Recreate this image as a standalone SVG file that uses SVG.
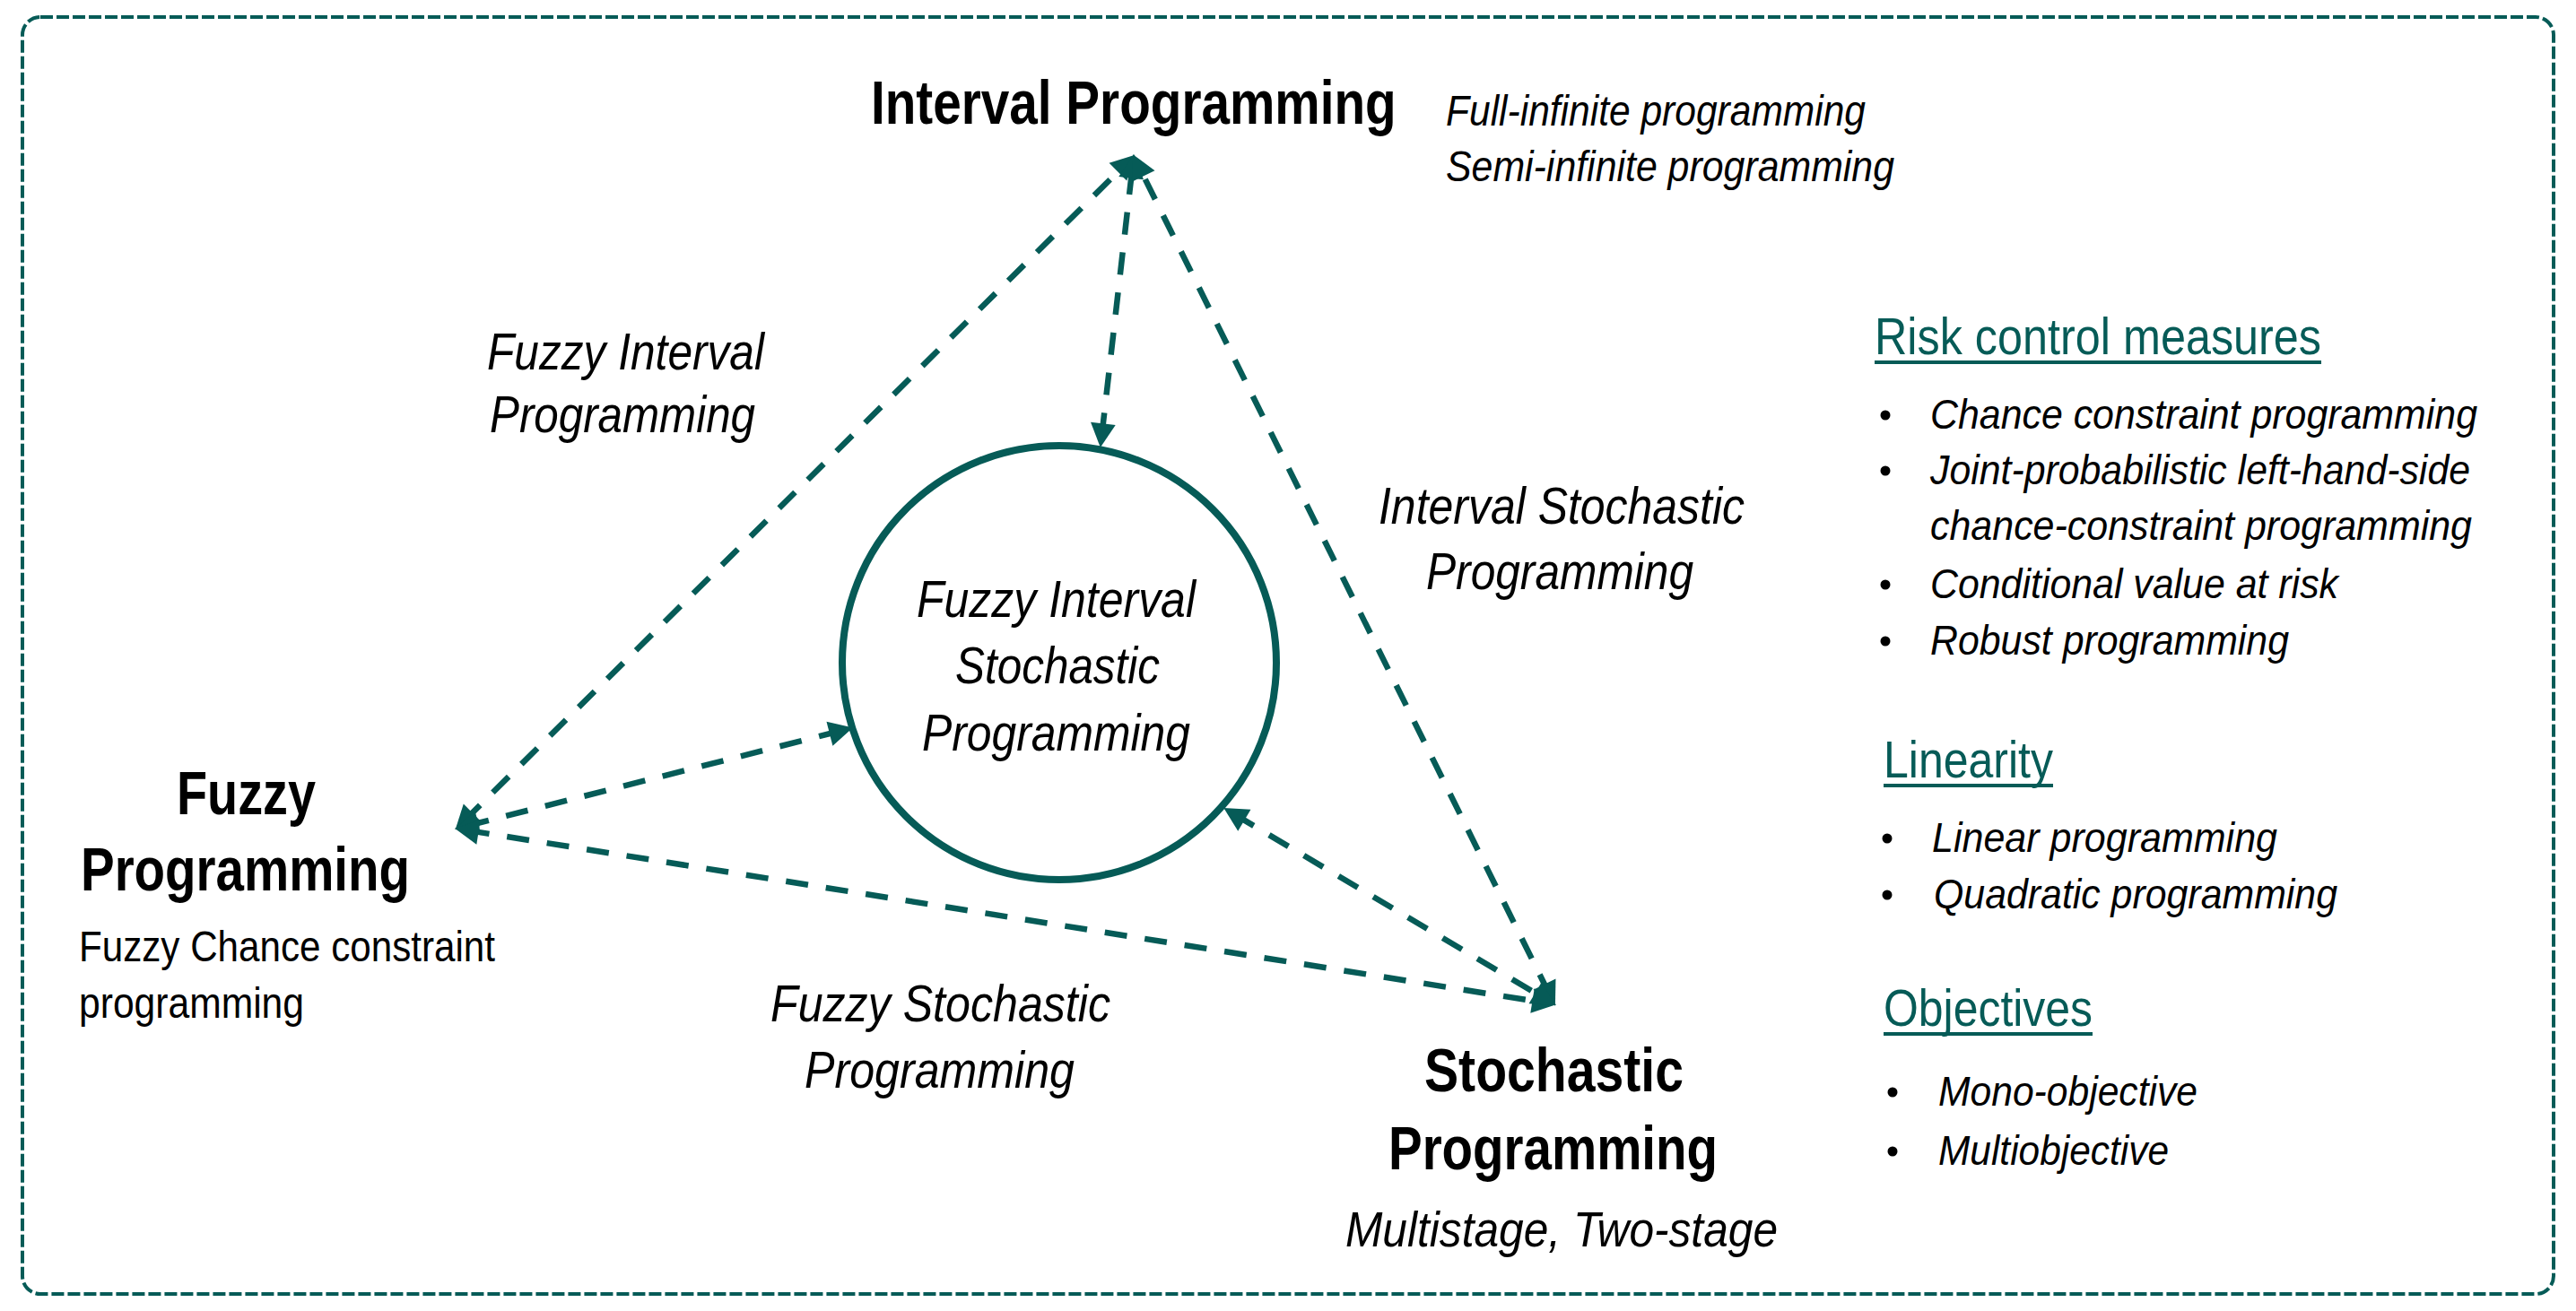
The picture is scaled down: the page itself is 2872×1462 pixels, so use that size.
<svg xmlns="http://www.w3.org/2000/svg" width="2872" height="1462" viewBox="0 0 2872 1462">
<style>
text{font-family:"Liberation Sans",Arial,sans-serif;fill:#000}
.b{font-weight:bold;font-size:69px}
.i{font-style:italic;font-size:58px}
.s{font-style:italic;font-size:48px}
.r{font-size:48px}
.l{font-style:italic;font-size:47px}
.h{font-size:57px;fill:#065b57}
.con{fill:none;stroke:#065b57;stroke-width:6.5;stroke-dasharray:25 20;marker-start:url(#ah);marker-end:url(#ah)}
.ul{fill:#065b57}
.bul{fill:#000}
</style>
<defs>
<marker id="ah" markerUnits="userSpaceOnUse" markerWidth="30" markerHeight="30" viewBox="0 -14 26 28" refX="12" refY="0" orient="auto-start-reverse">
<path d="M0,-13 L25,0 L0,13 z" fill="#065b57"/>
</marker>
</defs>
<rect id="frame" x="25" y="19" width="2822" height="1424" rx="20" ry="20" fill="none" stroke="#065b57" stroke-width="4" stroke-dasharray="14 4"/>

<g id="connectors">
<path class="con" d="M517.5,915.5 L1255.5,182.5"/>
<path class="con" d="M1228.4,485.1 L1262.6,185.9"/>
<path class="con" d="M1727.7,1109.2 L1269.3,184.8"/>
<path class="con" d="M520.6,921 L937.4,815"/>
<path class="con" d="M520.8,925.9 L1721.2,1118.1"/>
<path class="con" d="M1376.3,908.1 L1722.7,1113.9"/>
</g>

<g id="node-center">
<circle cx="1181" cy="739" r="242" fill="none" stroke="#065b57" stroke-width="8"/>
<text class="i" x="1022" y="688" textLength="311" lengthAdjust="spacingAndGlyphs">Fuzzy Interval</text>
<text class="i" x="1065" y="762" textLength="228" lengthAdjust="spacingAndGlyphs">Stochastic</text>
<text class="i" x="1028" y="837" textLength="299" lengthAdjust="spacingAndGlyphs">Programming</text>
</g>

<g id="node-interval">
<text class="b" transform="translate(971,138) scale(0.8215,1)" x="0" y="0">Interval Programming</text>
<text class="s" x="1612" y="140" textLength="468" lengthAdjust="spacingAndGlyphs">Full-infinite programming</text>
<text class="s" x="1612" y="202" textLength="500" lengthAdjust="spacingAndGlyphs">Semi-infinite programming</text>
</g>

<g id="node-fuzzy">
<text class="b" x="197" y="908" textLength="155" lengthAdjust="spacingAndGlyphs">Fuzzy</text>
<text class="b" x="90" y="993" textLength="367" lengthAdjust="spacingAndGlyphs">Programming</text>
<text class="r" x="88" y="1072" textLength="464" lengthAdjust="spacingAndGlyphs">Fuzzy Chance constraint</text>
<text class="r" x="88" y="1135" textLength="251" lengthAdjust="spacingAndGlyphs">programming</text>
</g>

<g id="node-stochastic">
<text class="b" x="1588" y="1217" textLength="289" lengthAdjust="spacingAndGlyphs">Stochastic</text>
<text class="b" x="1548" y="1304" textLength="367" lengthAdjust="spacingAndGlyphs">Programming</text>
<text class="i" x="1500" y="1390" textLength="482" lengthAdjust="spacingAndGlyphs" style="font-size:56px">Multistage, Two-stage</text>
</g>

<g id="label-fuzzy-interval">
<text class="i" x="543" y="412" textLength="309" lengthAdjust="spacingAndGlyphs">Fuzzy Interval</text>
<text class="i" x="546" y="482" textLength="296" lengthAdjust="spacingAndGlyphs">Programming</text>
</g>

<g id="label-interval-stochastic">
<text class="i" x="1537" y="584" textLength="408" lengthAdjust="spacingAndGlyphs">Interval Stochastic</text>
<text class="i" x="1590" y="657" textLength="298" lengthAdjust="spacingAndGlyphs">Programming</text>
</g>

<g id="label-fuzzy-stochastic">
<text class="i" x="859" y="1139" textLength="379" lengthAdjust="spacingAndGlyphs">Fuzzy Stochastic</text>
<text class="i" x="897" y="1213" textLength="301" lengthAdjust="spacingAndGlyphs">Programming</text>
</g>

<g id="legend-risk">
<text class="h" x="2090" y="395" textLength="498" lengthAdjust="spacingAndGlyphs">Risk control measures</text>
<rect class="ul" x="2090" y="402" width="498" height="4"/>
<circle class="bul" cx="2102" cy="463" r="5.5"/>
<circle class="bul" cx="2102" cy="525" r="5.5"/>
<circle class="bul" cx="2102" cy="652" r="5.5"/>
<circle class="bul" cx="2102" cy="715" r="5.5"/>
<text class="l" x="2152" y="478" textLength="610" lengthAdjust="spacingAndGlyphs">Chance constraint programming</text>
<text class="l" x="2152" y="540" textLength="602" lengthAdjust="spacingAndGlyphs">Joint-probabilistic left-hand-side</text>
<text class="l" x="2152" y="602" textLength="604" lengthAdjust="spacingAndGlyphs">chance-constraint programming</text>
<text class="l" x="2152" y="667" textLength="455" lengthAdjust="spacingAndGlyphs">Conditional value at risk</text>
<text class="l" x="2152" y="730" textLength="400" lengthAdjust="spacingAndGlyphs">Robust programming</text>
</g>

<g id="legend-linearity">
<text class="h" x="2100" y="867" textLength="189" lengthAdjust="spacingAndGlyphs">Linearity</text>
<rect class="ul" x="2100" y="874" width="189" height="4"/>
<circle class="bul" cx="2104" cy="935" r="5.5"/>
<circle class="bul" cx="2104" cy="998" r="5.5"/>
<text class="l" x="2154" y="950" textLength="385" lengthAdjust="spacingAndGlyphs">Linear programming</text>
<text class="l" x="2156" y="1013" textLength="450" lengthAdjust="spacingAndGlyphs">Quadratic programming</text>
</g>

<g id="legend-objectives">
<text class="h" x="2100" y="1144" textLength="233" lengthAdjust="spacingAndGlyphs">Objectives</text>
<rect class="ul" x="2100" y="1151" width="233" height="4"/>
<circle class="bul" cx="2110" cy="1218" r="5.5"/>
<circle class="bul" cx="2110" cy="1284" r="5.5"/>
<text class="l" x="2161" y="1233" textLength="289" lengthAdjust="spacingAndGlyphs">Mono-objective</text>
<text class="l" x="2161" y="1299" textLength="257" lengthAdjust="spacingAndGlyphs">Multiobjective</text>
</g>
</svg>
